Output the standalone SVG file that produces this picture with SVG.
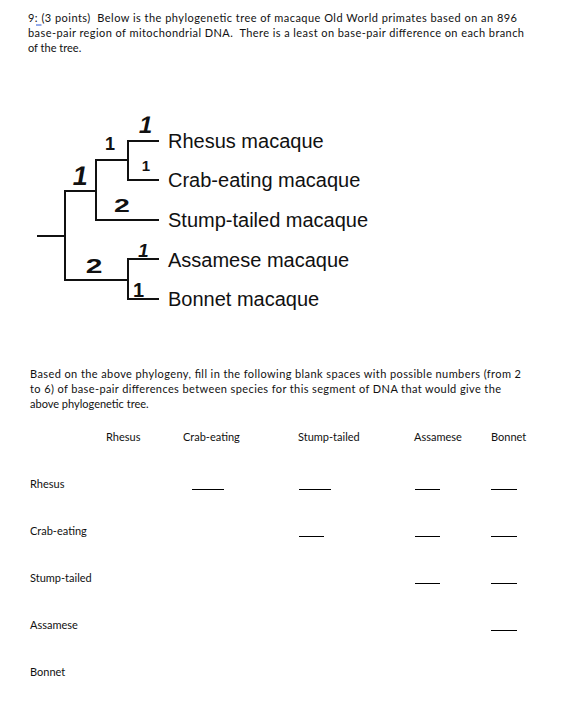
<svg xmlns="http://www.w3.org/2000/svg" width="576" height="706" viewBox="0 0 576 706">
<style>
.b{font-family:Lato,"Liberation Sans",sans-serif;font-size:11px;fill:#111;white-space:pre}
.lab{font-family:"Liberation Sans",Arial,sans-serif;font-size:20px;fill:#111}
.hw{font-family:"Liberation Sans",Arial,sans-serif;font-weight:bold;fill:#111}
.tree{stroke:#111;stroke-width:2;fill:none;stroke-linecap:square}
.blank{stroke:#000;stroke-width:1}
</style>
<rect width="576" height="706" fill="#fff"/>
<g id="question">
<text class="b" x="28" y="22" textLength="489" lengthAdjust="spacing">9: (3 points)  Below is the phylogenetic tree of macaque Old World primates based on an 896</text>
<line x1="36" y1="25" x2="41.5" y2="25" stroke="#2b57d6" stroke-width="1"/>
<text class="b" x="28" y="37" textLength="496" lengthAdjust="spacing">base-pair region of mitochondrial DNA.  There is a least on base-pair difference on each branch</text>
<text class="b" x="28" y="52">of the tree.</text>
</g>
<g id="connectors">
<path class="tree" d="M38 236H65M65 191V280M65 191H96M96 160V220M96 160H128M96 220H158M128 141V180M128 141H158M128 180H158M65 280H128M128 259V299M128 259H158M128 299H158"/>
</g>
<g id="node-rhesus"><text class="lab" x="168" y="148">Rhesus macaque</text></g>
<g id="node-crab"><text class="lab" x="168" y="187">Crab-eating macaque</text></g>
<g id="node-stump"><text class="lab" x="168" y="227">Stump-tailed macaque</text></g>
<g id="node-assamese"><text class="lab" x="168" y="267">Assamese macaque</text></g>
<g id="node-bonnet"><text class="lab" x="168" y="306">Bonnet macaque</text></g>
<g id="branch-labels">
<text class="hw" font-size="24" transform="translate(144.5,133) skewX(-12)" text-anchor="middle">1</text>
<text class="hw" font-size="18" transform="translate(110,150)" text-anchor="middle">1</text>
<text class="hw" font-size="15" transform="translate(146,170.5)" text-anchor="middle">1</text>
<text class="hw" font-size="27" transform="translate(79,185) skewX(-10)" text-anchor="middle">1</text>
<text class="hw" font-size="19" transform="translate(122,212) scale(1.5,1)" text-anchor="middle">2</text>
<text class="hw" font-size="20" transform="translate(94,273) scale(1.5,1)" text-anchor="middle">2</text>
<text class="hw" font-size="19" transform="translate(142.5,257) skewX(-10)" text-anchor="middle">1</text>
<text class="hw" font-size="20" transform="translate(138.5,297)" text-anchor="middle">1</text>
</g>
<g id="instructions">
<text class="b" x="30" y="378" textLength="491" lengthAdjust="spacing">Based on the above phylogeny, fill in the following blank spaces with possible numbers (from 2</text>
<text class="b" x="30" y="393" textLength="471" lengthAdjust="spacing">to 6) of base-pair differences between species for this segment of DNA that would give the</text>
<text class="b" x="30" y="408">above phylogenetic tree.</text>
</g>
<g id="table">
<text class="b" x="106" y="441">Rhesus</text>
<text class="b" x="183" y="441">Crab-eating</text>
<text class="b" x="298" y="441">Stump-tailed</text>
<text class="b" x="414" y="441">Assamese</text>
<text class="b" x="491" y="441">Bonnet</text>
<text class="b" x="30" y="488">Rhesus</text>
<text class="b" x="30" y="535">Crab-eating</text>
<text class="b" x="30" y="582">Stump-tailed</text>
<text class="b" x="30" y="629">Assamese</text>
<text class="b" x="30" y="676">Bonnet</text>
<path class="blank" d="M192 489.5H224M299 489.5H331M415 489.5H440M491 489.5H517M299 536.5H324M415 536.5H440M491 536.5H517M415 583.5H440M491 583.5H517M491 630.5H517"/>
</g>
</svg>
